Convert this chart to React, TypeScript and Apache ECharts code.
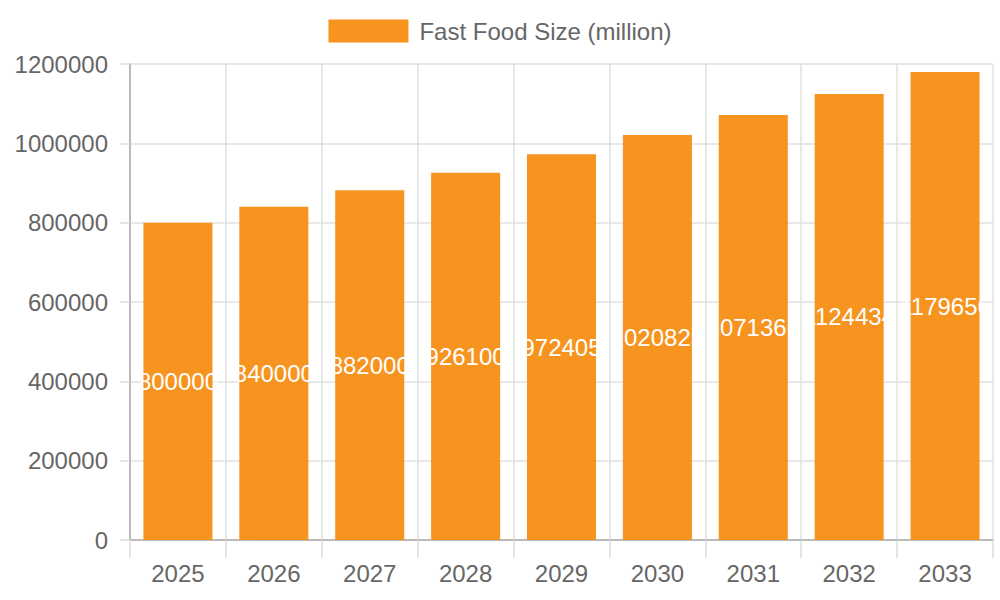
import React, { useEffect, useRef } from "react";
import * as echarts from "echarts";

const years = ["2025", "2026", "2027", "2028", "2029", "2030", "2031", "2032", "2033"];
const marketSize = [800000, 840000, 882000, 926100, 972405, 1020825, 1071366, 1124434, 1179656];
const seriesName = "Fast Food Size (million)";

const FONT = "'Liberation Sans', Arial, Helvetica, sans-serif";
const BAR_COLOR = "#F79420";
const TEXT_COLOR = "#666666";

const App: React.FC = () => {
  const chartRef = useRef<HTMLDivElement>(null);

  useEffect(() => {
    document.body.style.margin = "0";
    if (!chartRef.current) return;
    const chart = echarts.init(chartRef.current, undefined, { renderer: "svg" });

    chart.setOption({
      animation: false,
      textStyle: { fontFamily: FONT },
      legend: {
        top: 14,
        left: "center",
        itemWidth: 80,
        itemHeight: 23,
        icon: "rect",
        data: [seriesName],
        textStyle: { fontSize: 24, color: TEXT_COLOR, fontFamily: FONT, padding: [0, 0, 0, 6] },
      },
      grid: { left: 130, right: 7, top: 64, bottom: 60, containLabel: false },
      xAxis: {
        type: "category",
        data: years,
        axisLine: { lineStyle: { color: "#aaaaaa", width: 1.5 } },
        axisTick: { show: true, length: 18, lineStyle: { color: "#dddddd", width: 1.5 } },
        axisLabel: { fontSize: 24, color: TEXT_COLOR, margin: 21, fontFamily: FONT },
        splitLine: { show: true, lineStyle: { color: "#e0e0e0", width: 1.5 } },
      },
      yAxis: {
        type: "value",
        min: 0,
        max: 1200000,
        interval: 200000,
        axisLine: { show: true, lineStyle: { color: "#aaaaaa", width: 1.5 } },
        axisTick: { show: true, length: 10, lineStyle: { color: "#dddddd", width: 1.5 } },
        axisLabel: {
          fontSize: 24,
          color: TEXT_COLOR,
          margin: 22,
          fontFamily: FONT,
          formatter: (v: number) => String(v),
        },
        splitLine: { show: true, lineStyle: { color: "#e0e0e0", width: 1.5 } },
      },
      series: [
        {
          name: seriesName,
          type: "bar",
          data: marketSize,
          barWidth: "72%",
          itemStyle: { color: BAR_COLOR },
          label: {
            show: true,
            position: "inside",
            color: "#ffffff",
            fontSize: 24,
            fontFamily: FONT,
          },
        },
      ],
    });

    return () => {
      chart.dispose();
    };
  }, []);

  return <div ref={chartRef} style={{ width: 1000, height: 600 }} />;
};

export default App;
